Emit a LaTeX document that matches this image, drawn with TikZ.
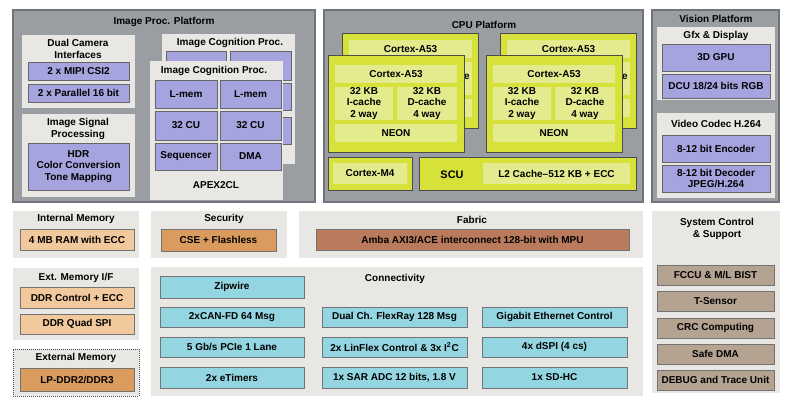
\documentclass[tikz,border=0pt]{standalone}
\usepackage{fontspec}
\setmainfont{Liberation Sans}
\begin{document}
\definecolor{plat}{HTML}{9A9DA1}
\definecolor{platb}{HTML}{70737A}
\definecolor{panel}{HTML}{E9E7E4}
\definecolor{purp}{HTML}{A6A4DE}
\definecolor{core}{HTML}{D6E23A}
\definecolor{band}{HTML}{E4EB8E}
\definecolor{lor}{HTML}{F2C99C}
\definecolor{dor}{HTML}{D99C5E}
\definecolor{brn}{HTML}{B97B5C}
\definecolor{cyn}{HTML}{93D5E0}
\definecolor{tau}{HTML}{B5A391}
\newcommand\bx[7]{\node[#2,inner sep=0pt,outer sep=0pt,align=center,minimum width={(#5-#3)*0.75pt},minimum height={(#6-#4)*0.75pt}] (#1) at ({(#3+#5)/2},{(#4+#6)/2}) {#7};}
\begin{tikzpicture}[x=0.75pt,y=-0.75pt,font=\bfseries\fontsize{7.5}{8.6}\selectfont,
  platform/.style={draw=platb,fill=plat,line width=0.8pt},
  pnl/.style={draw=none,fill=panel},
  pu/.style={draw=black!60,fill=purp,line width=0.5pt},
  cr/.style={draw=black!70,fill=core,line width=0.6pt},
  bd/.style={draw=none,fill=band},
  lo/.style={draw=black!55,fill=lor,line width=0.5pt},
  do/.style={draw=black!55,fill=dor,line width=0.5pt},
  br/.style={draw=black!55,fill=brn,line width=0.5pt},
  cy/.style={draw=black!55,fill=cyn,line width=0.5pt},
  ta/.style={draw=black!55,fill=tau,line width=0.5pt},
  ttl/.style={inner sep=0pt,align=center}]
\useasboundingbox[fill=white] (0,0) rectangle (804,405);
% Image Proc Platform
\bx{ipp}{platform}{13}{10}{315}{202}{}
\node[ttl] (ippt) at (164,22) {Image Proc. Platform};
\bx{dci}{pnl}{22}{35}{135}{108}{}
\node[ttl] (dcit) at (78,49) {Dual Camera\\Interfaces};
\bx{mipi}{pu}{28}{62}{129}{80}{2 x MIPI CSI2}
\bx{par}{pu}{28}{84}{129}{102}{2 x Parallel 16 bit}
\bx{isp}{pnl}{22}{114}{135}{197}{}
\node[ttl] (ispt) at (78,129) {Image Signal\\Processing};
\bx{hdr}{pu}{28}{143}{129}{190}{HDR\\Color Conversion\\Tone Mapping}
\bx{icpb}{pnl}{162}{34}{295}{164}{}
\node[ttl] (icpbt) at (230,43) {Image Cognition Proc.};
\bx{b1}{pu}{166}{51}{226}{80}{}
\bx{b2}{pu}{230}{51}{291}{80}{}
\bx{b3}{pu}{230}{83}{291}{110}{}
\bx{b4}{pu}{230}{117}{291}{144}{}
\bx{icpf}{pnl}{150}{61}{283}{200}{}
\node[ttl] (icpft) at (214,71) {Image Cognition Proc.};
\bx{lm1}{pu}{155}{80}{217}{108}{L-mem}
\bx{lm2}{pu}{220}{80}{281}{108}{L-mem}
\bx{cu1}{pu}{155}{111}{217}{140}{32 CU}
\bx{cu2}{pu}{220}{111}{281}{140}{32 CU}
\bx{seq}{pu}{155}{143}{217}{170}{Sequencer}
\bx{dma}{pu}{220}{143}{281}{170}{DMA}
\node[ttl] (apex) at (216,185) {APEX2CL};
% CPU Platform
\bx{cpu}{platform}{324}{10}{643}{202}{}
\node[ttl] (cput) at (484,25) {CPU Platform};
% back cores
\bx{bl}{cr}{342}{33}{478}{128}{}
\bx{bla}{bd}{349}{40}{472}{58}{Cortex-A53}
\bx{blc}{bd}{349}{62}{472}{95}{}
\bx{bln}{bd}{349}{99}{472}{117}{}
\bx{brc}{cr}{500}{33}{636}{128}{}
\bx{bra}{bd}{507}{40}{630}{58}{Cortex-A53}
\bx{brcc}{bd}{507}{62}{630}{95}{}
\bx{brn}{bd}{507}{99}{630}{117}{}
\node[ttl] (blx) at (467,77) {e};
\node[ttl] (brx) at (625,77) {e};
% front cores
\bx{fl}{cr}{328}{55}{464}{152}{}
\bx{fla}{bd}{335}{65}{457}{83}{Cortex-A53}
\bx{fli}{bd}{335}{87}{393}{120}{32 KB\\I-cache\\2 way}
\bx{fld}{bd}{397}{87}{457}{120}{32 KB\\D-cache\\4 way}
\bx{fln}{bd}{335}{124}{457}{142}{NEON}
\bx{fr}{cr}{486}{55}{622}{152}{}
\bx{fra}{bd}{493}{65}{615}{83}{Cortex-A53}
\bx{fri}{bd}{493}{87}{551}{120}{32 KB\\I-cache\\2 way}
\bx{frd}{bd}{555}{87}{615}{120}{32 KB\\D-cache\\4 way}
\bx{frn}{bd}{493}{124}{615}{142}{NEON}
\bx{m4}{cr}{328}{157}{412}{190}{}
\bx{m4i}{bd}{333}{163}{407}{184}{Cortex-M4}
\bx{scu}{cr}{419}{157}{636}{190}{}
\node[ttl] (scut) at (452,175) {\fontsize{8.2}{9}\selectfont SCU};
\bx{l2}{bd}{483}{163}{630}{184}{L2 Cache--512 KB + ECC}
% Vision Platform
\bx{vis}{platform}{652}{10}{779}{202}{}
\node[ttl] (vist) at (716,19) {Vision Platform};
\bx{gfx}{pnl}{657}{27}{775}{100}{}
\node[ttl] (gfxt) at (716,36) {Gfx \& Display};
\bx{gpu}{pu}{662}{44}{770}{71}{3D GPU}
\bx{dcu}{pu}{662}{74}{770}{98}{DCU 18/24 bits RGB}
\bx{vc}{pnl}{657}{113}{775}{198}{}
\node[ttl] (vct) at (716,124) {Video Codec H.264};
\bx{enc}{pu}{662}{135}{770}{162}{8-12 bit Encoder}
\bx{dec}{pu}{662}{165}{770}{192}{8-12 bit Decoder\\JPEG/H.264}
% Bottom panels
\bx{im}{pnl}{13}{211}{139}{258}{}
\node[ttl] (imt) at (76,219) {Internal Memory};
\bx{ram}{lo}{20}{229}{134}{250}{4 MB RAM with ECC}
\bx{sec}{pnl}{151}{211}{287}{258}{}
\node[ttl] (sect) at (224,219) {Security};
\bx{cse}{do}{161}{229}{276}{251}{CSE + Flashless}
\bx{fab}{pnl}{299}{211}{643}{258}{}
\node[ttl] (fabt) at (472,220) {Fabric};
\bx{amba}{br}{316}{229}{629}{250}{Amba AXI3/ACE interconnect 128-bit with MPU}
\bx{sys}{pnl}{652}{211}{780}{393}{}
\node[ttl] (syst) at (717,229) {System Control\\\& Support};
\bx{fccu}{ta}{657}{265}{774}{285}{FCCU \& M/L BIST}
\bx{ts}{ta}{657}{291}{774}{311}{T-Sensor}
\bx{crc}{ta}{657}{318}{774}{338}{CRC Computing}
\bx{sdma}{ta}{657}{344}{774}{364}{Safe DMA}
\bx{dbg}{ta}{657}{370}{774}{390}{DEBUG and Trace Unit}
\bx{emi}{pnl}{13}{268}{139}{340}{}
\node[ttl] (emit) at (76,278) {Ext. Memory I/F};
\bx{ddr}{lo}{20}{287}{134}{308}{DDR Control + ECC}
\bx{qspi}{lo}{20}{314}{134}{334}{DDR Quad SPI}
\bx{em}{pnl,draw=black!70,densely dotted,line width=0.5pt}{13}{349}{139}{396}{}
\node[ttl] (emt) at (76,358) {External Memory};
\bx{lp}{do}{20}{368}{134}{391}{LP-DDR2/DDR3}
\bx{con}{pnl}{151}{267}{643}{396}{}
\node[ttl] (cont) at (395,279) {Connectivity};
\bx{zip}{cy}{160}{276}{304}{298}{Zipwire}
\bx{can}{cy}{160}{307}{304}{327}{2xCAN-FD 64 Msg}
\bx{pcie}{cy}{160}{337}{304}{357}{5 Gb/s PCIe 1 Lane}
\bx{etim}{cy}{160}{367}{304}{388}{2x eTimers}
\bx{flex}{cy}{322}{307}{467}{327}{Dual Ch. FlexRay 128 Msg}
\bx{lin}{cy}{322}{337}{467}{357}{2x LinFlex Control \& 3x I\textsuperscript{2}C}
\bx{adc}{cy}{322}{367}{467}{388}{1x SAR ADC 12 bits, 1.8 V}
\bx{eth}{cy}{482}{307}{627}{327}{Gigabit Ethernet Control}
\bx{dspi}{cy}{482}{337}{627}{357}{4x dSPI (4 cs)}
\bx{sdhc}{cy}{482}{367}{627}{388}{1x SD-HC}
\end{tikzpicture}
\end{document}
